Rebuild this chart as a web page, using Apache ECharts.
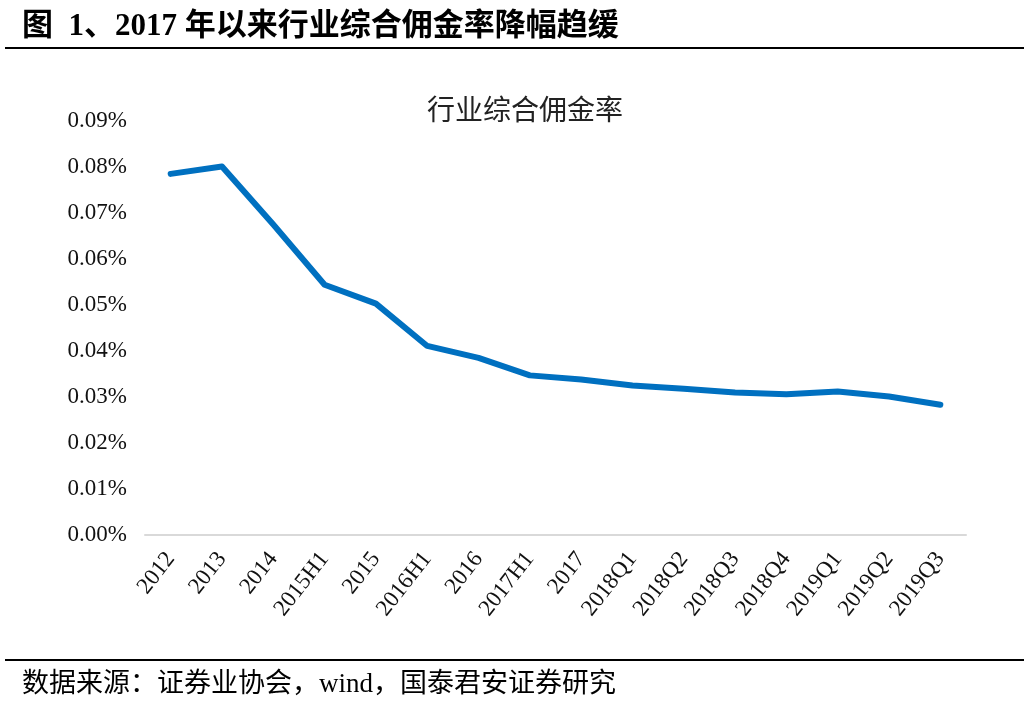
<!DOCTYPE html>
<html>
<head>
<meta charset="utf-8">
<script src="https://cdn.jsdelivr.net/npm/echarts@6/dist/echarts.min.js"></script>
<style>
  html, body { margin: 0; padding: 0; background: #fff; }
  #chart { width: 1024px; height: 710px; }
</style>
</head>
<body>
<div id="chart"></div>
<script>
// periods on the x axis
var periods = ['2012', '2013', '2014', '2015H1', '2015', '2016H1', '2016', '2017H1', '2017',
  '2018Q1', '2018Q2', '2018Q3', '2018Q4', '2019Q1', '2019Q2', '2019Q3'];
// 行业综合佣金率, in percent
var rates = [0.0785, 0.0801, 0.0675, 0.0544, 0.0503, 0.0411, 0.0385, 0.0347, 0.0338,
  0.0325, 0.0318, 0.0310, 0.0306, 0.0312, 0.0301, 0.0283];
var yTicks = { min: 0, max: 0.09, step: 0.01 };

var serif = '"Liberation Serif", "Times New Roman", "Noto Sans CJK SC", serif';

var chart = echarts.init(document.getElementById('chart'));
chart.setOption({
  backgroundColor: '#fff',
  animation: false,
  title: {
    text: '行业综合佣金率',
    left: 422,
    top: 94,
    textStyle: { fontFamily: serif, fontSize: 28, fontWeight: 'normal', color: '#222' }
  },
  grid: { left: 145, right: 58, top: 121, bottom: 175 },
  xAxis: {
    type: 'category',
    data: periods,
    boundaryGap: true,
    axisLine: { show: true, lineStyle: { color: '#d9d9d9', width: 2 } },
    axisTick: { show: false },
    axisLabel: {
      interval: 0,
      rotate: 52,
      margin: 20,
      fontFamily: serif,
      fontSize: 23,
      color: '#111'
    }
  },
  yAxis: {
    type: 'value',
    min: yTicks.min,
    max: yTicks.max,
    interval: yTicks.step,
    axisLine: { show: false },
    axisTick: { show: false },
    splitLine: { show: false },
    axisLabel: {
      margin: 18,
      fontFamily: serif,
      fontSize: 23,
      color: '#111',
      formatter: function (v) { return v.toFixed(2) + '%'; }
    }
  },
  series: [{
    name: '行业综合佣金率',
    type: 'line',
    data: rates,
    symbol: 'none',
    lineStyle: { color: '#0070C0', width: 6, cap: 'round', join: 'round' }
  }],
  graphic: [
    {
      type: 'text', left: 22, top: 11,
      style: {
        text: '图  1、2017 年以来行业综合佣金率降幅趋缓',
        font: 'bold 31px ' + serif, fill: '#000'
      }
    },
    {
      type: 'rect', shape: { x: 5, y: 47, width: 1019, height: 2 },
      style: { fill: '#000' }
    },
    {
      type: 'rect', shape: { x: 5, y: 659, width: 1019, height: 2 },
      style: { fill: '#000' }
    },
    {
      type: 'text', left: 22, top: 671,
      style: {
        text: '数据来源：证券业协会，wind，国泰君安证券研究',
        font: '27px ' + serif, fill: '#000'
      }
    }
  ]
});
</script>
</body>
</html>
